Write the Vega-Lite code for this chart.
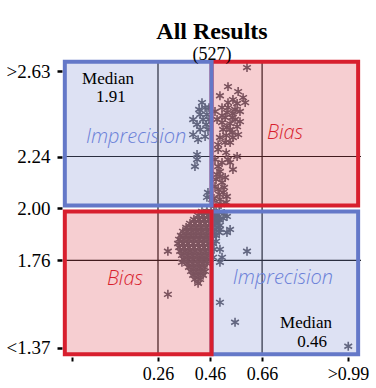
{
  "$schema": "https://vega.github.io/schema/vega-lite/v6.json",
  "width": 298,
  "height": 296,
  "autosize": {"type": "none"},
  "padding": {"left": 63, "top": 60, "right": 15, "bottom": 32},
  "background": "white",
  "title": {
    "text": "All Results",
    "subtitle": "(527)",
    "font": "Liberation Serif",
    "fontSize": 24,
    "fontWeight": "bold",
    "color": "black",
    "subtitleFont": "Liberation Serif",
    "subtitleFontSize": 18,
    "subtitleColor": "black",
    "subtitlePadding": 2,
    "anchor": "middle",
    "offset": -5
  },
  "config": {"view": {"stroke": null}},
  "datasets": {
    "gridx": [{"v": 0.26}, {"v": 0.66}],
    "gridy": [{"v": 2.24}, {"v": 1.76}],
    "quads": [
      {"row": "top", "xi": 0.46, "xo": 1.029, "yi": 2.0, "yo": 2.678, "kind": "Bias"},
      {"row": "top", "xi": 0.46, "xo": -0.098, "yi": 2.0, "yo": 2.678, "kind": "Imprecision"},
      {"row": "bottom", "xi": 0.46, "xo": 1.029, "yi": 2.0, "yo": 1.326, "kind": "Imprecision"},
      {"row": "bottom", "xi": 0.46, "xo": -0.098, "yi": 2.0, "yo": 1.326, "kind": "Bias"}
    ],
    "medians": [
      {"x": 0.068, "y": 2.598, "t": "Median"},
      {"x": 0.079, "y": 2.515, "t": "1.91"},
      {"x": 0.829, "y": 1.470, "t": "Median"},
      {"x": 0.852, "y": 1.383, "t": "0.46"}
    ],
    "tags": [
      {"x": 0.176, "y": 2.330, "t": "Imprecision", "kind": "Imprecision"},
      {"x": 0.748, "y": 2.348, "t": "Bias", "kind": "Bias"},
      {"x": 0.133, "y": 1.674, "t": "Bias", "kind": "Bias"},
      {"x": 0.740, "y": 1.678, "t": "Imprecision", "kind": "Imprecision"}
    ],
    "pts": [
      {"x":0.429,"y":1.986},{"x":0.448,"y":1.986},{"x":0.464,"y":1.986},
      {"x":0.414,"y":1.968},{"x":0.433,"y":1.968},{"x":0.452,"y":1.968},{"x":0.468,"y":1.968},{"x":0.483,"y":1.968},
      {"x":0.398,"y":1.949},{"x":0.418,"y":1.949},{"x":0.437,"y":1.949},{"x":0.456,"y":1.949},{"x":0.475,"y":1.949},{"x":0.495,"y":1.949},
      {"x":0.383,"y":1.931},{"x":0.402,"y":1.931},{"x":0.422,"y":1.931},{"x":0.441,"y":1.931},{"x":0.460,"y":1.931},{"x":0.483,"y":1.931},
      {"x":0.368,"y":1.912},{"x":0.387,"y":1.912},{"x":0.406,"y":1.912},{"x":0.425,"y":1.912},{"x":0.445,"y":1.912},{"x":0.464,"y":1.912},{"x":0.491,"y":1.912},
      {"x":0.356,"y":1.894},{"x":0.375,"y":1.894},{"x":0.395,"y":1.894},{"x":0.414,"y":1.894},{"x":0.433,"y":1.894},{"x":0.452,"y":1.894},{"x":0.472,"y":1.894},
      {"x":0.348,"y":1.875},{"x":0.368,"y":1.875},{"x":0.387,"y":1.875},{"x":0.406,"y":1.875},{"x":0.425,"y":1.875},{"x":0.445,"y":1.875},{"x":0.464,"y":1.875},{"x":0.483,"y":1.875},
      {"x":0.341,"y":1.857},{"x":0.360,"y":1.857},{"x":0.379,"y":1.857},{"x":0.398,"y":1.857},{"x":0.418,"y":1.857},{"x":0.437,"y":1.857},{"x":0.456,"y":1.857},
      {"x":0.337,"y":1.838},{"x":0.356,"y":1.838},{"x":0.375,"y":1.838},{"x":0.395,"y":1.838},{"x":0.414,"y":1.838},{"x":0.433,"y":1.838},{"x":0.452,"y":1.838},{"x":0.472,"y":1.838},
      {"x":0.341,"y":1.820},{"x":0.360,"y":1.820},{"x":0.379,"y":1.820},{"x":0.398,"y":1.820},{"x":0.418,"y":1.820},{"x":0.437,"y":1.820},{"x":0.456,"y":1.820},
      {"x":0.345,"y":1.802},{"x":0.364,"y":1.802},{"x":0.383,"y":1.802},{"x":0.402,"y":1.802},{"x":0.422,"y":1.802},{"x":0.441,"y":1.802},{"x":0.460,"y":1.802},
      {"x":0.352,"y":1.783},{"x":0.372,"y":1.783},{"x":0.391,"y":1.783},{"x":0.410,"y":1.783},{"x":0.429,"y":1.783},{"x":0.448,"y":1.783},
      {"x":0.360,"y":1.765},{"x":0.379,"y":1.765},{"x":0.398,"y":1.765},{"x":0.418,"y":1.765},{"x":0.437,"y":1.765},{"x":0.456,"y":1.765},
      {"x":0.372,"y":1.746},{"x":0.391,"y":1.746},{"x":0.410,"y":1.746},{"x":0.429,"y":1.746},{"x":0.448,"y":1.746},
      {"x":0.379,"y":1.728},{"x":0.398,"y":1.728},{"x":0.418,"y":1.728},{"x":0.437,"y":1.728},
      {"x":0.387,"y":1.709},{"x":0.406,"y":1.709},{"x":0.425,"y":1.709},{"x":0.441,"y":1.709},
      {"x":0.395,"y":1.691},{"x":0.414,"y":1.691},{"x":0.433,"y":1.691},
      {"x":0.402,"y":1.672},{"x":0.422,"y":1.672},
      {"x":0.414,"y":1.654},
      {"x":0.602,"y":2.651},{"x":0.529,"y":2.563},{"x":0.568,"y":2.540},{"x":0.498,"y":2.521},{"x":0.587,"y":2.512},
      {"x":0.548,"y":2.503},{"x":0.529,"y":2.489},{"x":0.564,"y":2.485},{"x":0.595,"y":2.489},{"x":0.506,"y":2.466},
      {"x":0.556,"y":2.457},{"x":0.479,"y":2.448},{"x":0.525,"y":2.443},{"x":0.575,"y":2.448},{"x":0.545,"y":2.420},
      {"x":0.487,"y":2.411},{"x":0.575,"y":2.401},{"x":0.506,"y":2.397},{"x":0.564,"y":2.378},{"x":0.525,"y":2.374},
      {"x":0.545,"y":2.351},{"x":0.498,"y":2.328},{"x":0.548,"y":2.328},{"x":0.518,"y":2.305},{"x":0.537,"y":2.305},
      {"x":0.491,"y":2.295},{"x":0.518,"y":2.420},{"x":0.537,"y":2.392},{"x":0.556,"y":2.411},{"x":0.529,"y":2.466},
      {"x":0.510,"y":2.365},{"x":0.537,"y":2.365},{"x":0.568,"y":2.341},{"x":0.506,"y":2.429},{"x":0.548,"y":2.438},
      {"x":0.522,"y":2.337},
      {"x":0.429,"y":2.489},{"x":0.441,"y":2.466},{"x":0.418,"y":2.457},{"x":0.448,"y":2.434},{"x":0.422,"y":2.434},
      {"x":0.395,"y":2.411},{"x":0.433,"y":2.411},{"x":0.410,"y":2.388},{"x":0.445,"y":2.388},{"x":0.452,"y":2.365},
      {"x":0.422,"y":2.365},{"x":0.395,"y":2.341},{"x":0.414,"y":2.318},{"x":0.441,"y":2.332},{"x":0.456,"y":2.466},
      {"x":0.456,"y":2.411},
      {"x":0.564,"y":2.240},{"x":0.529,"y":2.226},{"x":0.479,"y":2.226},{"x":0.548,"y":2.180},{"x":0.498,"y":2.171},
      {"x":0.537,"y":2.212},{"x":0.491,"y":2.272},{"x":0.522,"y":2.258},{"x":0.410,"y":2.226},{"x":0.402,"y":2.194},
      {"x":0.410,"y":2.249},
      {"x":0.498,"y":2.148},{"x":0.506,"y":2.120},{"x":0.491,"y":2.088},{"x":0.510,"y":2.074},{"x":0.498,"y":2.042},
      {"x":0.525,"y":2.055},{"x":0.452,"y":2.074},{"x":0.479,"y":2.102},{"x":0.483,"y":2.134},{"x":0.514,"y":2.097},
      {"x":0.495,"y":2.065},{"x":0.475,"y":2.046},{"x":0.502,"y":2.018},{"x":0.483,"y":2.014},{"x":0.522,"y":2.028},
      {"x":0.491,"y":2.194},{"x":0.506,"y":2.212},{"x":0.487,"y":2.157},{"x":0.518,"y":2.143},{"x":0.468,"y":2.042},
      {"x":0.448,"y":2.051},
      {"x":0.298,"y":1.802},{"x":0.602,"y":1.802},{"x":0.298,"y":1.603},{"x":0.498,"y":1.566},{"x":0.556,"y":1.474},
      {"x":0.991,"y":1.363},{"x":0.352,"y":1.751},{"x":0.498,"y":1.811},{"x":0.506,"y":1.774},{"x":0.537,"y":1.903},
      {"x":0.525,"y":1.963},{"x":0.487,"y":1.972},{"x":0.498,"y":1.751},{"x":0.498,"y":1.903},{"x":0.525,"y":1.889},
      {"x":0.475,"y":1.986},{"x":0.495,"y":1.982},{"x":0.514,"y":1.977},{"x":0.472,"y":1.958},{"x":0.491,"y":1.949},
      {"x":0.510,"y":1.954},{"x":0.479,"y":1.931},{"x":0.498,"y":1.922},{"x":0.475,"y":1.903},{"x":0.495,"y":1.889},
      {"x":0.472,"y":1.875},{"x":0.483,"y":1.848},{"x":0.475,"y":1.811},{"x":0.472,"y":1.774}
    ]
  },
  "layer": [
    {
      "data": {"name": "gridx"},
      "mark": {"type": "rule", "color": "#1a1a1a", "strokeWidth": 1.2},
      "encoding": {
        "x": {
          "field": "v", "type": "quantitative", "title": null,
          "scale": {"domain": [-0.105, 1.04], "nice": false, "zero": false},
          "axis": {
            "values": [-0.071, 0.26, 0.46, 0.66, 0.99],
            "labelExpr": "datum.value < 0 ? '' : (datum.value > 0.9 ? '>0.99' : format(datum.value, '.2f'))",
            "title": null, "domain": false, "grid": false,
            "tickSize": 4, "tickWidth": 2, "tickColor": "black", "offset": 1,
            "labelFont": "Liberation Serif", "labelFontSize": 18, "labelColor": "black",
            "labelPadding": 4, "labelFlush": false, "labelOverlap": false
          }
        }
      }
    },
    {
      "data": {"name": "gridy"},
      "mark": {"type": "rule", "color": "#1a1a1a", "strokeWidth": 1.2},
      "encoding": {
        "y": {
          "field": "v", "type": "quantitative", "title": null,
          "scale": {"domain": [1.318, 2.686], "nice": false, "zero": false},
          "axis": {
            "values": [2.635, 2.24, 2.0, 1.76, 1.355],
            "labelExpr": "datum.value > 2.6 ? '>2.63' : (datum.value < 1.4 ? '<1.37' : format(datum.value, '.2f'))",
            "title": null, "domain": false, "grid": false,
            "tickSize": 5, "tickWidth": 2.5, "tickColor": "black", "offset": 1,
            "labelFont": "Liberation Serif", "labelFontSize": 19, "labelColor": "black",
            "labelPadding": 7, "labelFlush": false, "labelOverlap": false
          }
        }
      }
    },
    {
      "data": {"name": "pts"},
      "mark": {
        "type": "point",
        "shape": "M0,-1L0,1M-0.87,-0.5L0.87,0.5M-0.87,0.5L0.87,-0.5",
        "filled": false,
        "size": 80,
        "strokeWidth": 1.6,
        "color": "#62626c",
        "opacity": 1
      },
      "encoding": {
        "x": {"field": "x", "type": "quantitative", "title": null, "scale": {"domain": [-0.105, 1.04], "nice": false, "zero": false}},
        "y": {"field": "y", "type": "quantitative", "title": null, "scale": {"domain": [1.318, 2.686], "nice": false, "zero": false}}
      }
    },
    {
      "data": {"name": "quads"},
      "transform": [{"filter": "datum.row == 'top'"}],
      "mark": {"type": "rect", "fillOpacity": 0.22, "strokeOpacity": 1, "strokeWidth": 4, "yOffset": -3, "xOffset": 1.5},
      "encoding": {
        "x": {"field": "xi", "type": "quantitative", "title": null, "scale": {"domain": [-0.105, 1.04], "nice": false, "zero": false}},
        "x2": {"field": "xo"},
        "y": {"field": "yi", "type": "quantitative", "title": null, "scale": {"domain": [1.318, 2.686], "nice": false, "zero": false}},
        "y2": {"field": "yo"},
        "fill": {"field": "kind", "type": "nominal", "scale": {"domain": ["Imprecision", "Bias"], "range": ["#6478c8", "#d81f2e"]}, "legend": null},
        "stroke": {"field": "kind", "type": "nominal", "scale": {"domain": ["Imprecision", "Bias"], "range": ["#6478c8", "#d81f2e"]}, "legend": null}
      }
    },
    {
      "data": {"name": "quads"},
      "transform": [{"filter": "datum.row == 'bottom'"}],
      "mark": {"type": "rect", "fillOpacity": 0.22, "strokeOpacity": 1, "strokeWidth": 4, "yOffset": 3, "xOffset": 1.5},
      "encoding": {
        "x": {"field": "xi", "type": "quantitative", "title": null, "scale": {"domain": [-0.105, 1.04], "nice": false, "zero": false}},
        "x2": {"field": "xo"},
        "y": {"field": "yi", "type": "quantitative", "title": null, "scale": {"domain": [1.318, 2.686], "nice": false, "zero": false}},
        "y2": {"field": "yo"},
        "fill": {"field": "kind", "type": "nominal", "scale": {"domain": ["Imprecision", "Bias"], "range": ["#6478c8", "#d81f2e"]}, "legend": null},
        "stroke": {"field": "kind", "type": "nominal", "scale": {"domain": ["Imprecision", "Bias"], "range": ["#6478c8", "#d81f2e"]}, "legend": null}
      }
    },
    {
      "data": {"name": "medians"},
      "mark": {"type": "text", "font": "Liberation Serif", "fontSize": 17, "color": "black", "align": "center", "baseline": "middle"},
      "encoding": {
        "x": {"field": "x", "type": "quantitative", "title": null, "scale": {"domain": [-0.105, 1.04], "nice": false, "zero": false}},
        "y": {"field": "y", "type": "quantitative", "title": null, "scale": {"domain": [1.318, 2.686], "nice": false, "zero": false}},
        "text": {"field": "t"}
      }
    },
    {
      "data": {"name": "tags"},
      "mark": {"type": "text", "font": "Open Sans", "fontSize": 20, "fontStyle": "italic", "fontWeight": 300, "align": "center", "baseline": "middle"},
      "encoding": {
        "x": {"field": "x", "type": "quantitative", "title": null, "scale": {"domain": [-0.105, 1.04], "nice": false, "zero": false}},
        "y": {"field": "y", "type": "quantitative", "title": null, "scale": {"domain": [1.318, 2.686], "nice": false, "zero": false}},
        "text": {"field": "t"},
        "color": {"field": "kind", "type": "nominal", "scale": {"domain": ["Imprecision", "Bias"], "range": ["#6a80d8", "#d81f2e"]}, "legend": null}
      }
    }
  ]
}
